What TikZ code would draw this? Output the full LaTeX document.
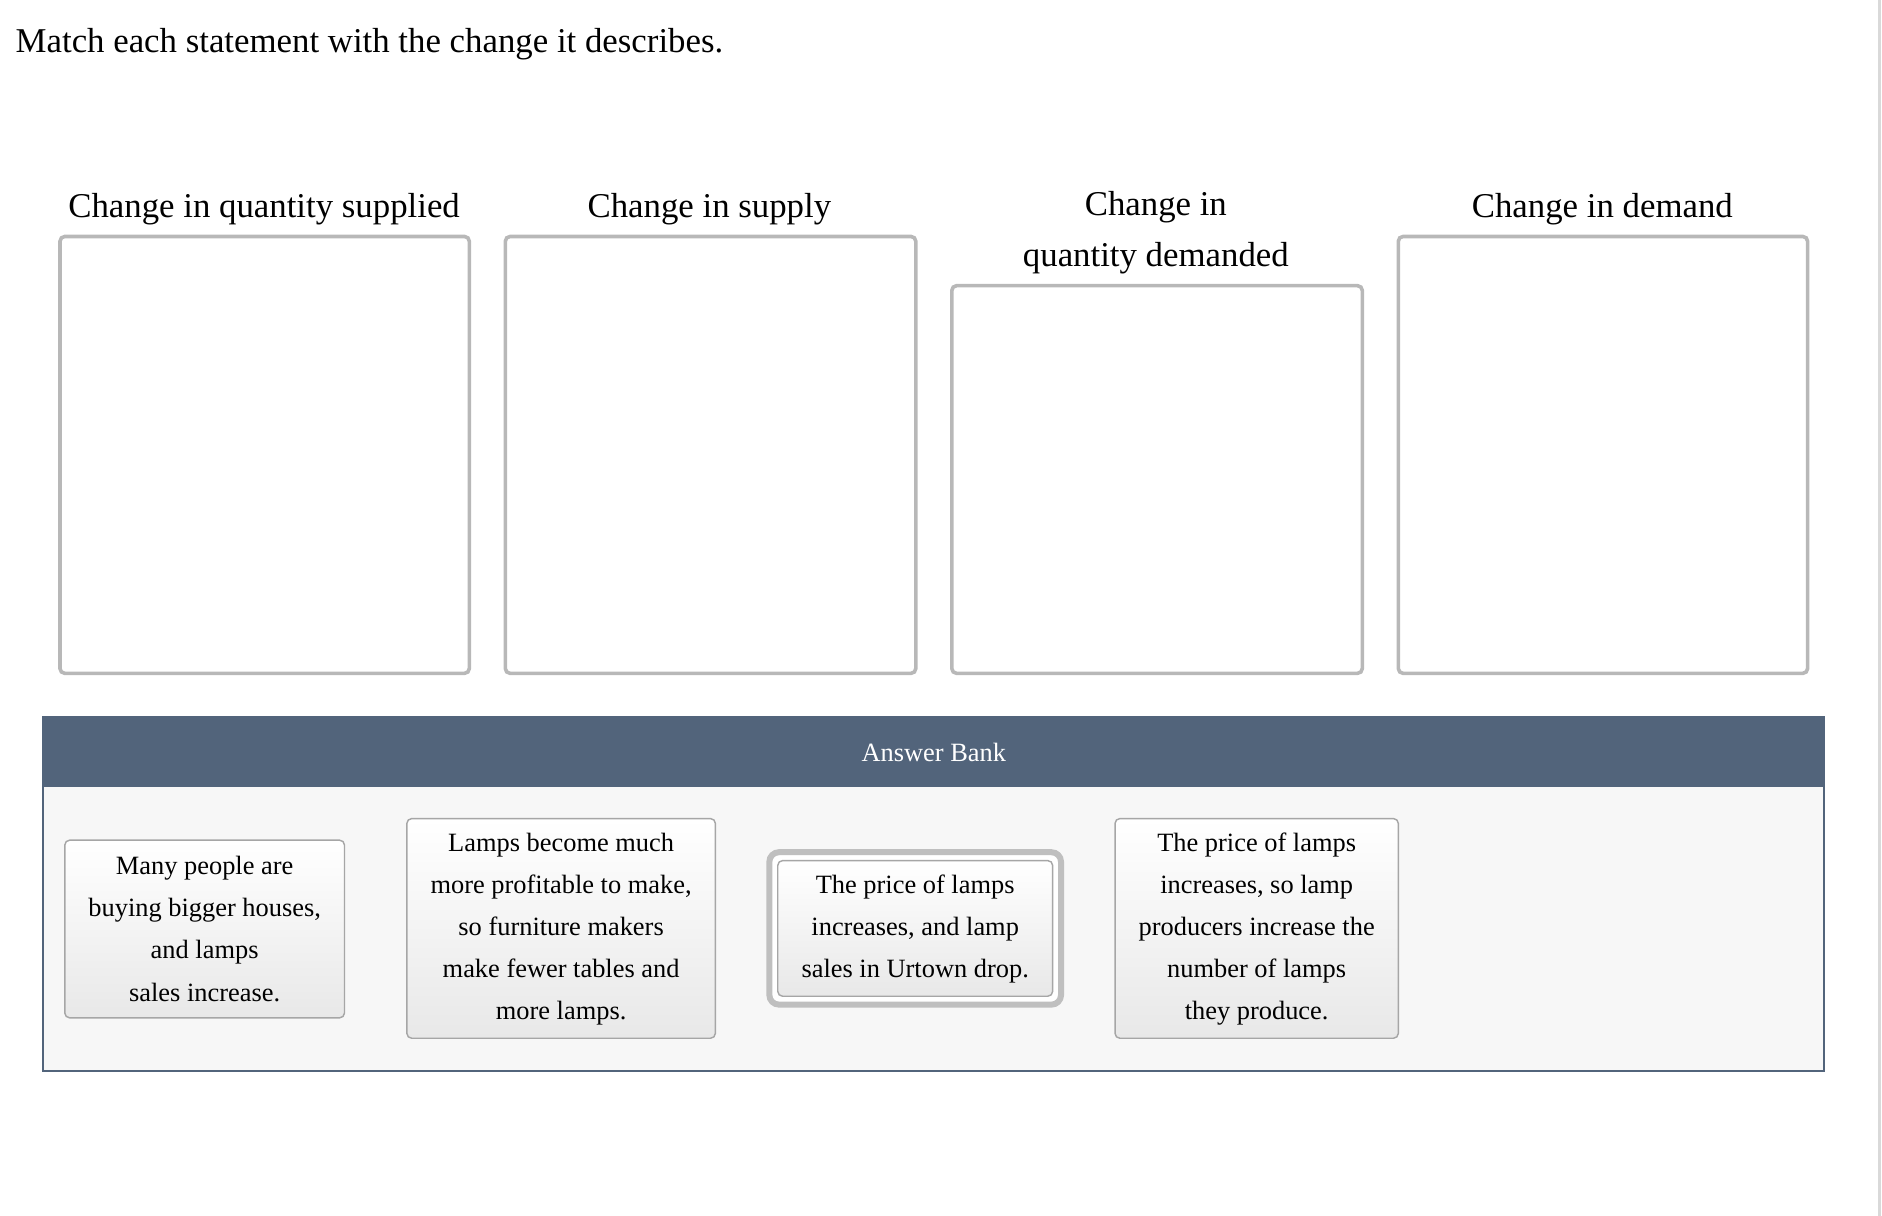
\documentclass[tikz,border=0pt]{standalone}
\usepackage{fontspec}
\setmainfont{Liberation Serif}
\begin{document}
\begin{tikzpicture}[x=0.5pt,y=-0.5pt,
  drop/.style={draw=black!28,line width=1.5pt,rounded corners=2pt},
  head/.style={font=\fontsize{14.5}{21}\selectfont,align=center},
  card/.style={draw=black!35,line width=0.6pt,rounded corners=2pt,top color=white,bottom color=black!9},
  ctext/.style={font=\fontsize{11}{17.5}\selectfont,align=center}]
\useasboundingbox (0,0) rectangle (1568,1013);
\draw[black!15,line width=1pt] (1566,0) -- (1566,1013);
\node[anchor=west,font=\fontsize{14.5}{18}\selectfont] (title) at (6,37) {Match each statement with the change it describes.};
\draw[drop] (50,197) rectangle (391,561) node[coordinate](b1){};
\draw[drop] (421,197) rectangle (763,561);
\draw[drop] (793,238) rectangle (1135,561);
\draw[drop] (1165,197) rectangle (1506,561);
\node[head] (h1) at (220,174) {Change in quantity supplied};
\node[head] (h2) at (591,174) {Change in supply};
\node[head] (h3) at (963,194) {Change in\\quantity demanded};
\node[head] (h4) at (1335,174) {Change in demand};
\fill[fill=black!3] (36,656) rectangle (1520,892);
\draw[draw={rgb,255:red,82;green,100;blue,123},line width=0.8pt] (36,597) rectangle (1520,892);
\fill[fill={rgb,255:red,82;green,100;blue,123}] (36,597) rectangle (1520,656);
\node[text=white,font=\fontsize{11}{14}\selectfont] (ab) at (778,627) {Answer Bank};
\draw[card] (54,700) rectangle (287,848);
\node[ctext] (c1) at (170.5,774) {Many people are\\buying bigger houses,\\and lamps\\sales increase.};
\draw[card] (339,682) rectangle (596,865);
\node[ctext] (c2) at (467.5,774) {Lamps become much\\more profitable to make,\\so furniture makers\\make fewer tables and\\more lamps.};
\draw[draw=black!25,line width=2.5pt,rounded corners=4pt,fill=white] (641,710) rectangle (884,837);
\draw[card] (648,717) rectangle (877,830);
\node[ctext] (c3) at (762.5,774) {The price of lamps\\increases, and lamp\\sales in Urtown drop.};
\draw[card] (929,682) rectangle (1165,865);
\node[ctext] (c4) at (1047,774) {The price of lamps\\increases, so lamp\\producers increase the\\number of lamps\\they produce.};
\end{tikzpicture}
\end{document}
